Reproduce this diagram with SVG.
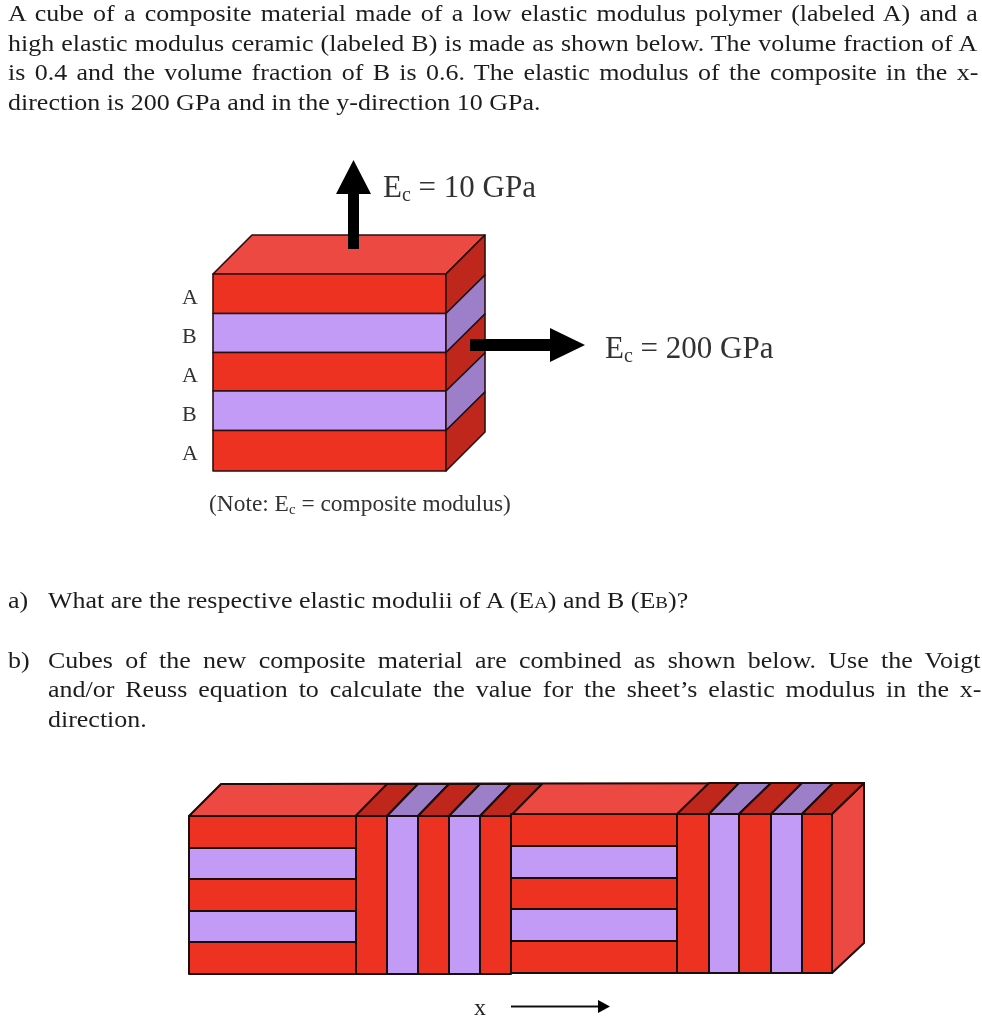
<svg xmlns="http://www.w3.org/2000/svg" width="982" height="1024" viewBox="0 0 982 1024">
<style>
text{font-family:"Liberation Serif","Times New Roman",serif;fill:#1c1c1c}
.b{font-size:24px}
.l{font-size:22px;fill:#333}
.e{font-size:31px;fill:#333}
.n{font-size:23.400px;fill:#333}
.s{stroke:#2a1010;stroke-width:1.6;stroke-linejoin:round}
#sheet .s{stroke:#1a0808;stroke-width:2}
.r{fill:#ee3022}
.p{fill:#c19bf6}
.dr{fill:#bf271c}
.dp{fill:#9d7ec9}
.lr{fill:#ec4842}
.soft{filter:url(#soft)}
</style>
<defs>
<filter id="soft" x="-5%" y="-5%" width="110%" height="110%"><feGaussianBlur stdDeviation="0.55"/></filter>
</defs>
<rect width="982" height="1024" fill="#fff"/>
<g id="problem-text" class="soft" transform="translate(8,0) scale(1.0833,1)">
<text class="b" x="0" y="21" word-spacing="2.590">A cube of a composite material made of a low elastic modulus polymer (labeled A) and a</text>
<text class="b" x="0" y="51" word-spacing="0.550">high elastic modulus ceramic (labeled B) is made as shown below. The volume fraction of A</text>
<text class="b" x="0" y="80" word-spacing="2.610">is 0.4 and the volume fraction of B is 0.6. The elastic modulus of the composite in the x-</text>
<text class="b" x="0" y="110">direction is 200 GPa and in the y-direction 10 GPa.</text>
<text class="b" x="0" y="608">a)</text>
<text class="b" x="36.900" y="608">What are the respective elastic modulii of A (E<tspan font-size="17.500">A</tspan>) and B (E<tspan font-size="17.500">B</tspan>)?</text>
<text class="b" x="0" y="668">b)</text>
<text class="b" x="36.900" y="668" word-spacing="5.330">Cubes of the new composite material are combined as shown below. Use the Voigt</text>
<text class="b" x="36.900" y="697" word-spacing="4.090">and/or Reuss equation to calculate the value for the sheet’s elastic modulus in the x-</text>
<text class="b" x="36.900" y="727">direction.</text>
</g>
<g id="cube" class="soft">
<polygon class="s lr" points="213,274 252,235 485,235 446,274"/>
<polygon class="s r" points="213,274 446,274 446,313.5 213,313.5" />
<polygon class="s p" points="213,313.5 446,313.5 446,352.5 213,352.5" />
<polygon class="s r" points="213,352.5 446,352.5 446,391 213,391" />
<polygon class="s p" points="213,391 446,391 446,430.5 213,430.5" />
<polygon class="s r" points="213,430.5 446,430.5 446,471 213,471" />
<polygon class="s dr" points="446,274 485,235 485,275 446,313.5"/>
<polygon class="s dp" points="446,313.5 485,275 485,314 446,352.5"/>
<polygon class="s dr" points="446,352.5 485,314 485,353 446,391"/>
<polygon class="s dp" points="446,391 485,353 485,392 446,430.5"/>
<polygon class="s dr" points="446,430.5 485,392 485,432 446,471"/>
<text class="l" x="182" y="304">A</text>
<text class="l" x="182" y="343">B</text>
<text class="l" x="182" y="382">A</text>
<text class="l" x="182" y="421">B</text>
<text class="l" x="182" y="460">A</text>
<text class="n" x="209" y="511">(Note: E<tspan font-size="15" dy="3">c</tspan><tspan dy="-3"> = composite modulus)</tspan></text>
</g>
<g id="connectors" class="soft">
<polygon fill="#000" points="353.500,160 371,194 359,194 359,249 348,249 348,194 336,194"/>
<polygon fill="#000" points="585,345 550,328 550,339 470,339 470,351 550,351 550,362"/>
<line x1="511" y1="1006.500" x2="600" y2="1006.500" stroke="#111" stroke-width="2"/>
<polygon fill="#000" points="610,1006.500 598,1000 598,1013"/>
</g>
<g id="labels" class="soft">
<text class="e" x="383" y="197">E<tspan font-size="20" dy="4">c</tspan><tspan dy="-4"> = 10 GPa</tspan></text>
<text class="e" x="605" y="358">E<tspan font-size="20" dy="4">c</tspan><tspan dy="-4"> = 200 GPa</tspan></text>
<text class="l" x="474" y="1015" style="fill:#222;font-size:24px">x</text>
</g>
<g id="sheet" class="soft">
<polygon class="s lr" points="189,816 221,784 864,783 832,814 511,814 355.500,816"/>
<polygon class="s lr" points="832,814 864,783 864,943 832,973"/>
<polygon class="s dr" points="355.500,816 387,784 418,784 387,816"/>
<polygon class="s dp" points="387,816 418,784 449,784 418,816"/>
<polygon class="s dr" points="418,816 449,784 480,784 449,816"/>
<polygon class="s dp" points="449,816 480,784 511,784 480,816"/>
<polygon class="s dr" points="480,816 511,784 542,784 510.500,816"/>
<polygon class="s dr" points="677,814 709,783 739,783 709,814"/>
<polygon class="s dp" points="709,814 739,783 771,783 739,814"/>
<polygon class="s dr" points="739,814 771,783 802,783 771,814"/>
<polygon class="s dp" points="771,814 802,783 833,783 802,814"/>
<polygon class="s dr" points="802,814 833,783 864,783 832,814"/>
<rect class="s r" x="189" y="816" width="167" height="32"/>
<rect class="s p" x="189" y="848" width="167" height="31"/>
<rect class="s r" x="189" y="879" width="167" height="32"/>
<rect class="s p" x="189" y="911" width="167" height="31"/>
<rect class="s r" x="189" y="942" width="167" height="32"/>
<rect class="s r" x="356" y="816" width="31" height="158"/>
<rect class="s p" x="387" y="816" width="31" height="158"/>
<rect class="s r" x="418" y="816" width="31" height="158"/>
<rect class="s p" x="449" y="816" width="31" height="158"/>
<rect class="s r" x="480" y="816" width="31" height="158"/>
<rect class="s r" x="511" y="814" width="166" height="32"/>
<rect class="s p" x="511" y="846" width="166" height="32"/>
<rect class="s r" x="511" y="878" width="166" height="31"/>
<rect class="s p" x="511" y="909" width="166" height="32"/>
<rect class="s r" x="511" y="941" width="166" height="32"/>
<rect class="s r" x="677" y="814" width="32" height="159"/>
<rect class="s p" x="709" y="814" width="30" height="159"/>
<rect class="s r" x="739" y="814" width="32" height="159"/>
<rect class="s p" x="771" y="814" width="31" height="159"/>
<rect class="s r" x="802" y="814" width="30" height="159"/>
</g>
</svg>
